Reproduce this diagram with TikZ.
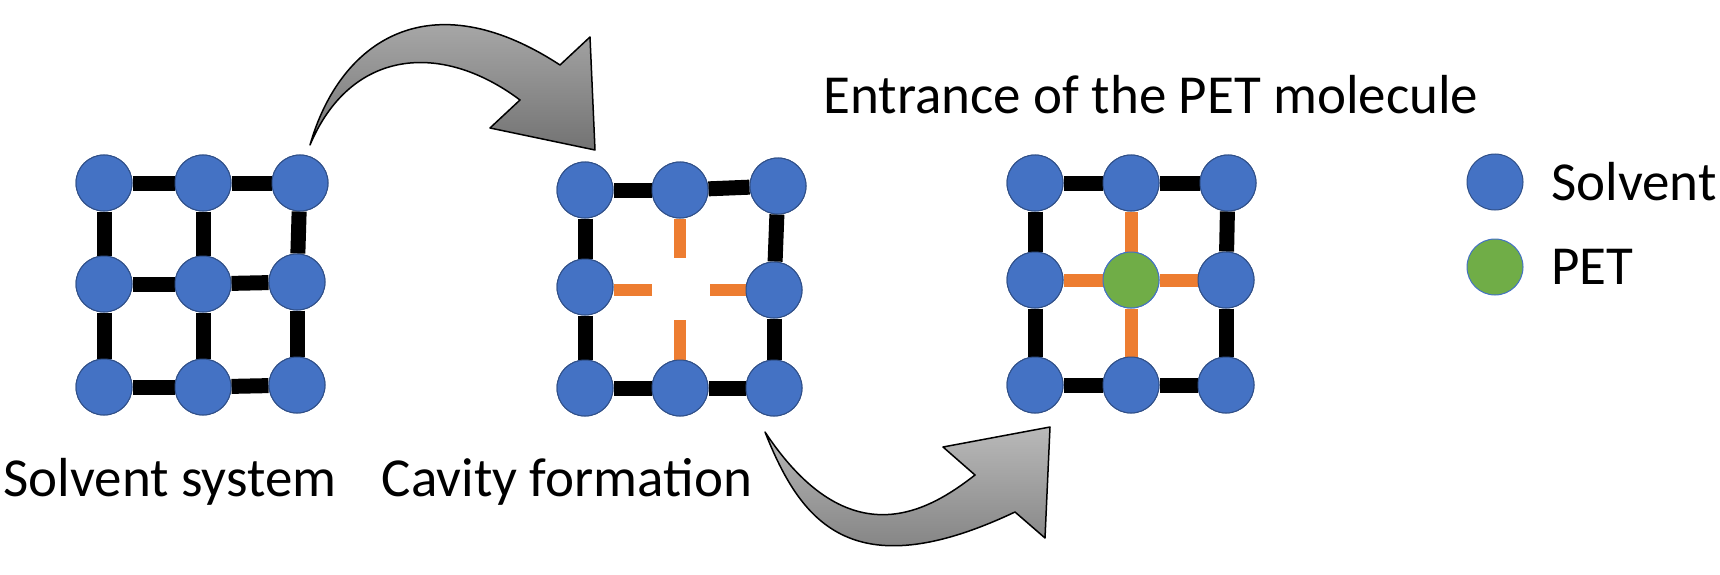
\documentclass[tikz,border=0pt]{standalone}
\usepackage{fontspec}
\setmainfont{Carlito}
\begin{document}
\begin{tikzpicture}[x=1pt,y=-1pt,
  atom/.style={circle,minimum size=56pt,inner sep=0pt,fill=sblue,draw=sblue!70!black,line width=1pt},
  pet/.style={atom,fill=pgreen,draw=sblue},
  bond/.style={line width=15pt,black},
  obond/.style={line width=13pt,porange},
  stub/.style={line width=12pt,porange},
  arr/.style={draw=black,line width=1.5pt,top color=gray!55,bottom color=gray!90!black,line join=round},
  lbl/.style={font=\fontsize{55}{62}\selectfont,inner sep=0pt}]
\definecolor{sblue}{RGB}{68,114,196}
\definecolor{pgreen}{RGB}{112,173,71}
\definecolor{porange}{RGB}{237,125,49}
\useasboundingbox[fill=white] (0,0) rectangle (1720,575);
% arrows
\path[arr] (310,145) .. controls (340,40) and (430,-20) .. (560,65)
  -- (590,37) -- (595,150) -- (490,128) -- (520,100)
  .. controls (440,40) and (350,50) .. (310,145) -- cycle;
\path[arr] (765,432) .. controls (800,520) and (850,590) .. (1015,512)
  -- (1045,538) -- (1050,427) -- (943,447) -- (975,475)
  .. controls (930,510) and (850,560) .. (765,432) -- cycle;
% grid 1
\foreach \n/\x/\y in {a1/104/183,a2/203/183,a3/300/183,a4/104/284,a5/203/284,a6/297/282,a7/104/387,a8/203/387,a9/297/385}
  \node[atom] (\n) at (\x,\y) {};
\foreach \p/\q in {a1/a2,a2/a3,a4/a5,a5/a6,a7/a8,a8/a9,a1/a4,a4/a7,a2/a5,a5/a8,a3/a6,a6/a9}
  \draw[bond] (\p) -- (\q);
\foreach \n/\x/\y in {a1/104/183,a2/203/183,a3/300/183,a4/104/284,a5/203/284,a6/297/282,a7/104/387,a8/203/387,a9/297/385}
  \node[atom] at (\x,\y) {};
% grid 2
\foreach \n/\x/\y in {b1/585/190,b2/680/190,b3/778/186,b4/585/287,b6/774/290,b7/585/388,b8/680/388,b9/774/388}
  \node[atom] (\n) at (\x,\y) {};
\foreach \p/\q in {b1/b2,b2/b3,b7/b8,b8/b9,b1/b4,b4/b7,b3/b6,b6/b9}
  \draw[bond] (\p) -- (\q);
\coordinate (s1) at (680,258); \coordinate (s2) at (652,290);
\coordinate (s3) at (710,290); \coordinate (s4) at (680,320);
\draw[stub] (b2) -- (s1); \draw[stub] (s2) -- (s2 -| b4.east);
\draw[stub] (s3) -- (s3 -| b6.west); \draw[stub] (b8) -- (s4);
\foreach \n/\x/\y in {b1/585/190,b2/680/190,b3/778/186,b4/585/287,b6/774/290,b7/585/388,b8/680/388,b9/774/388}
  \node[atom] at (\x,\y) {};
% grid 3
\foreach \n/\x/\y in {c1/1035/183,c2/1131/183,c3/1228/183,c4/1035/280,c6/1226/280,c7/1035/385,c8/1131/385,c9/1226/385}
  \node[atom] (\n) at (\x,\y) {};
\node[pet] (c5) at (1131,280) {};
\foreach \p/\q in {c1/c2,c2/c3,c7/c8,c8/c9,c1/c4,c4/c7,c3/c6,c6/c9}
  \draw[bond] (\p) -- (\q);
\foreach \p in {c2,c4,c6,c8} \draw[obond] (c5) -- (\p);
\foreach \n/\x/\y in {c1/1035/183,c2/1131/183,c3/1228/183,c4/1035/280,c6/1226/280,c7/1035/385,c8/1131/385,c9/1226/385}
  \node[atom] at (\x,\y) {};
\node[pet] at (1131,280) {};
% legend
\node[atom] (ls) at (1495,182) {};
\node[pet] (lp) at (1495,267) {};
\node[lbl,anchor=west] (ts) at (1551,182) {Solvent};
\node[lbl,anchor=west] (tp) at (1551,267) {PET};
% labels
\node[lbl] (t1) at (170,482) {Solvent system};
\node[lbl] (t2) at (567,482) {Cavity formation};
\node[lbl] (t3) at (1151,95) {Entrance of the PET molecule};
\end{tikzpicture}
\end{document}
